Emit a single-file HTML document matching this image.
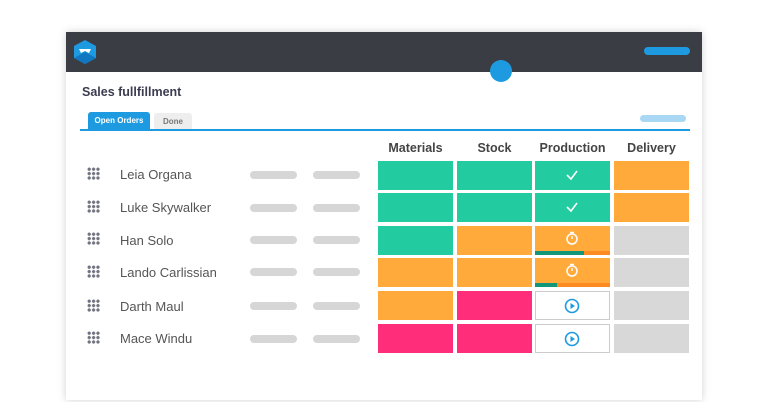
<!DOCTYPE html><html><head><style>
body{margin:0;width:768px;height:402px;background:#fff;position:relative;overflow:hidden;font-family:"Liberation Sans",sans-serif}
.a{position:absolute}
.frame{left:66px;top:32px;width:636px;height:368px;background:#fff;box-shadow:0 0 8px rgba(0,0,0,.18)}
.hdr{left:66px;top:32px;width:636px;height:40px;background:#3b3d45}
.pill{position:absolute;height:8px;border-radius:4px;background:#d6d6d6;width:47px}
.c{position:absolute;width:75px;height:29px}
.t{background:#22cba0}.o{background:#ffaa3b}.p{background:#ff2d7a}.g{background:#d8d8d8}.w{background:#fff;border:1px solid #ccc;box-sizing:border-box}
.nm{position:absolute;left:120px;font-size:13px;color:#555}
.hd{position:absolute;top:141px;font-size:12.5px;font-weight:bold;color:#444;width:75px;text-align:center}
.grid{position:absolute;left:87px;width:13px;height:13px;background-image:radial-gradient(circle,#707380 1.5px,transparent 1.8px);background-size:4.4px 4.4px}
</style></head><body>
<div class="a frame"></div>
<div class="a hdr"></div>
<svg class="a" style="left:74px;top:40px" width="22" height="24"><polygon points="11,0 22,6 22,18 11,24 0,18 0,6" fill="#1e9be0"/><polygon points="11,12 22,18 11,24 0,18" fill="#1177c0"/><path d="M5,9 L17,9 L15,13 L11,11 L7,13Z" fill="#fff"/></svg>
<div class="a" style="left:644px;top:47px;width:46px;height:8px;border-radius:4px;background:#1e9be0"></div>
<div class="a" style="left:490px;top:60px;width:22px;height:22px;border-radius:50%;background:#1e9be0"></div>
<div class="a" style="left:82px;top:85px;font-size:12.5px;font-weight:bold;color:#3b3d50">Sales fullfillment</div>
<div class="a" style="left:88px;top:112px;width:62px;height:18px;background:#1e9be0;border-radius:3px 3px 0 0;color:#fff;font-size:8px;font-weight:bold;text-align:center;line-height:18px">Open Orders</div>
<div class="a" style="left:154px;top:113px;width:38px;height:17px;background:#eee;border-radius:3px 3px 0 0;color:#777;font-size:8px;font-weight:bold;text-align:center;line-height:17px">Done</div>
<div class="a" style="left:80px;top:129px;width:610px;height:2px;background:#1e9be0"></div>
<div class="a" style="left:640px;top:115px;width:46px;height:7px;border-radius:4px;background:#a9d8f5"></div>
<div class="hd" style="left:378px">Materials</div><div class="hd" style="left:457px">Stock</div><div class="hd" style="left:535px">Production</div><div class="hd" style="left:614px">Delivery</div>

<div class="grid" style="top:167px"></div><div class="nm" style="top:167px">Leia Organa</div>
<div class="grid" style="top:200px"></div><div class="nm" style="top:200px">Luke Skywalker</div>
<div class="grid" style="top:232px"></div><div class="nm" style="top:233px">Han Solo</div>
<div class="grid" style="top:265px"></div><div class="nm" style="top:265px">Lando Carlissian</div>
<div class="grid" style="top:299px"></div><div class="nm" style="top:299px">Darth Maul</div>
<div class="grid" style="top:331px"></div><div class="nm" style="top:331px">Mace Windu</div>

<div class="pill" style="left:250px;top:171px"></div><div class="pill" style="left:313px;top:171px"></div>
<div class="pill" style="left:250px;top:204px"></div><div class="pill" style="left:313px;top:204px"></div>
<div class="pill" style="left:250px;top:236px"></div><div class="pill" style="left:313px;top:236px"></div>
<div class="pill" style="left:250px;top:268px"></div><div class="pill" style="left:313px;top:268px"></div>
<div class="pill" style="left:250px;top:302px"></div><div class="pill" style="left:313px;top:302px"></div>
<div class="pill" style="left:250px;top:335px"></div><div class="pill" style="left:313px;top:335px"></div>

<div class="c t" style="left:378px;top:161px"></div><div class="c t" style="left:457px;top:161px"></div><div class="c t" style="left:535px;top:161px"></div><div class="c o" style="left:614px;top:161px"></div>
<div class="c t" style="left:378px;top:193px"></div><div class="c t" style="left:457px;top:193px"></div><div class="c t" style="left:535px;top:193px"></div><div class="c o" style="left:614px;top:193px"></div>
<div class="c t" style="left:378px;top:226px"></div><div class="c o" style="left:457px;top:226px"></div><div class="c o" style="left:535px;top:226px"></div><div class="c g" style="left:614px;top:226px"></div>
<div class="c o" style="left:378px;top:258px"></div><div class="c o" style="left:457px;top:258px"></div><div class="c o" style="left:535px;top:258px"></div><div class="c g" style="left:614px;top:258px"></div>
<div class="c o" style="left:378px;top:291px"></div><div class="c p" style="left:457px;top:291px"></div><div class="c w" style="left:535px;top:291px"></div><div class="c g" style="left:614px;top:291px"></div>
<div class="c p" style="left:378px;top:324px"></div><div class="c p" style="left:457px;top:324px"></div><div class="c w" style="left:535px;top:324px"></div><div class="c g" style="left:614px;top:324px"></div>

<div class="a" style="left:535px;top:251px;width:75px;height:4px;background:#ff8a1f"></div><div class="a" style="left:535px;top:251px;width:49px;height:4px;background:#12967a"></div>
<div class="a" style="left:535px;top:283px;width:75px;height:4px;background:#ff8a1f"></div><div class="a" style="left:535px;top:283px;width:22px;height:4px;background:#12967a"></div>

<svg class="a" style="left:565px;top:169px" width="14" height="12"><path d="M2,6 L6,10 L12,2" stroke="#fff" stroke-width="1.6" fill="none"/></svg>
<svg class="a" style="left:565px;top:201px" width="14" height="12"><path d="M2,6 L6,10 L12,2" stroke="#fff" stroke-width="1.6" fill="none"/></svg>
<svg class="a" style="left:565px;top:231px" width="14" height="14"><circle cx="7" cy="8" r="5" stroke="#fff" stroke-width="1.5" fill="none"/><path d="M5,1.5 H9 M7,5 V8" stroke="#fff" stroke-width="1.4"/></svg>
<svg class="a" style="left:565px;top:263px" width="14" height="14"><circle cx="7" cy="8" r="5" stroke="#fff" stroke-width="1.5" fill="none"/><path d="M5,1.5 H9 M7,5 V8" stroke="#fff" stroke-width="1.4"/></svg>
<svg class="a" style="left:564px;top:298px" width="16" height="16"><circle cx="8" cy="8" r="6.5" stroke="#1e9be0" stroke-width="1.6" fill="none"/><polygon points="6.5,5 11,8 6.5,11" fill="#1e9be0"/></svg>
<svg class="a" style="left:564px;top:331px" width="16" height="16"><circle cx="8" cy="8" r="6.5" stroke="#1e9be0" stroke-width="1.6" fill="none"/><polygon points="6.5,5 11,8 6.5,11" fill="#1e9be0"/></svg>
</body></html>
